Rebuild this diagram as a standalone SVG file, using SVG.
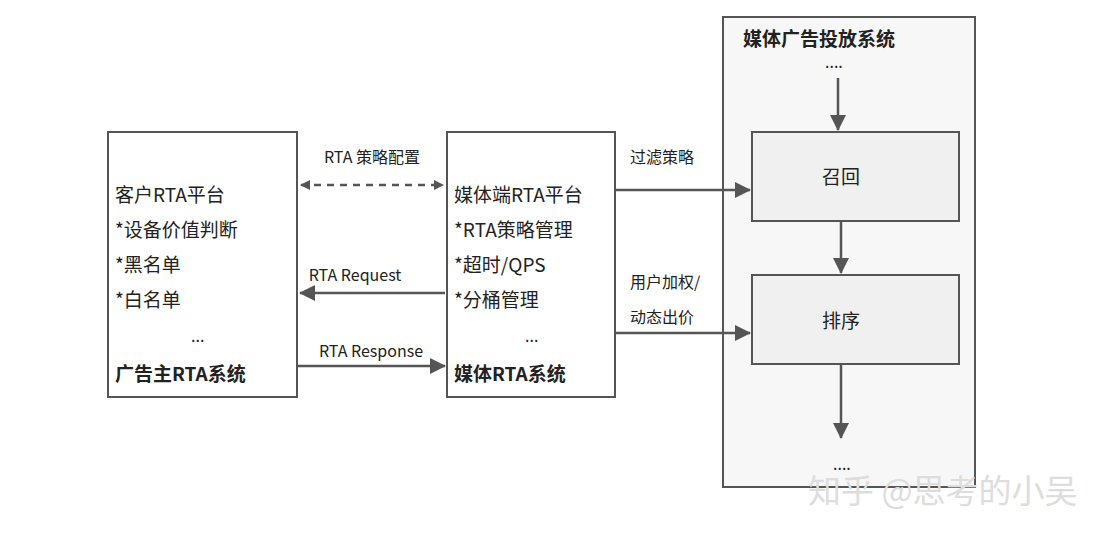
<svg xmlns="http://www.w3.org/2000/svg" width="1106" height="538" viewBox="0 0 1106 538">
<style>
text{font-family:"Noto Sans CJK SC","Liberation Sans",sans-serif;fill:#222}
.t{font-size:19px}.l{font-size:16px}.b{font-size:19px;font-weight:bold}
.box{fill:#fff;stroke:#555;stroke-width:2}
.ln{stroke:#555;stroke-width:2.5;fill:none}
</style>
<defs>
<marker id="a" markerWidth="10" markerHeight="10" refX="9" refY="5" orient="auto-start-reverse" markerUnits="userSpaceOnUse"><path d="M0,0 L10,5 L0,10 Z" fill="#555"/></marker>
<marker id="b" markerWidth="16" markerHeight="16" refX="15" refY="8" orient="auto-start-reverse" markerUnits="userSpaceOnUse"><path d="M0,0 L16,8 L0,16 Z" fill="#555"/></marker>
</defs>
<rect width="1106" height="538" fill="#fff"/>
<g id="sys"><rect x="723" y="17" width="252" height="470" fill="#f7f7f7" stroke="#555" stroke-width="2"/>
<text class="b" x="743" y="46">媒体广告投放系统</text><text class="l" x="825" y="68">....</text></g>
<g id="adv"><rect class="box" x="108" y="132" width="189" height="265"/>
<text class="t" x="115" y="202">客户RTA平台</text><text class="t" x="115" y="237">*设备价值判断</text>
<text class="t" x="115" y="272">*黑名单</text><text class="t" x="115" y="307">*白名单</text>
<text class="l" x="191" y="342">...</text><text class="b" x="115" y="381">广告主RTA系统</text></g>
<g id="media"><rect class="box" x="447" y="132" width="168" height="265"/>
<text class="t" x="454" y="202">媒体端RTA平台</text><text class="t" x="454" y="237">*RTA策略管理</text>
<text class="t" x="454" y="272">*超时/QPS</text><text class="t" x="454" y="307">*分桶管理</text>
<text class="l" x="525" y="342">...</text><text class="b" x="454" y="381">媒体RTA系统</text></g>
<g id="recall"><rect x="752" y="132" width="207" height="89" fill="#f0f0f0" stroke="#555" stroke-width="2"/><text class="t" x="841" y="184" text-anchor="middle">召回</text></g>
<g id="rank"><rect x="752" y="275" width="207" height="89" fill="#f0f0f0" stroke="#555" stroke-width="2"/><text class="t" x="841" y="328" text-anchor="middle">排序</text></g>
<g id="connectors">
<path class="ln" d="M301,185 H443" stroke-dasharray="7,6" marker-start="url(#a)" marker-end="url(#a)"/>
<path class="ln" d="M445,293 H300" marker-end="url(#b)"/>
<path class="ln" d="M297,366 H445" marker-end="url(#b)"/>
<path class="ln" d="M615,190 H750" marker-end="url(#b)"/>
<path class="ln" d="M615,333 H750" marker-end="url(#b)"/>
<path class="ln" d="M838,78 V130" marker-end="url(#b)"/>
<path class="ln" d="M841,221 V273" marker-end="url(#b)"/>
<path class="ln" d="M841,364 V438" marker-end="url(#b)"/>
</g>
<text class="l" x="372" y="163" text-anchor="middle">RTA 策略配置</text>
<text class="l" x="355" y="281" text-anchor="middle">RTA Request</text>
<text class="l" x="371" y="357" text-anchor="middle">RTA Response</text>
<text class="l" x="630" y="163">过滤策略</text>
<text class="l" x="630" y="288">用户加权/</text>
<text class="l" x="630" y="323">动态出价</text>
<text class="l" x="833" y="470">....</text>
<text x="808" y="503" font-size="33" style="fill:#ddd">知乎 @思考的小吴</text>
</svg>
